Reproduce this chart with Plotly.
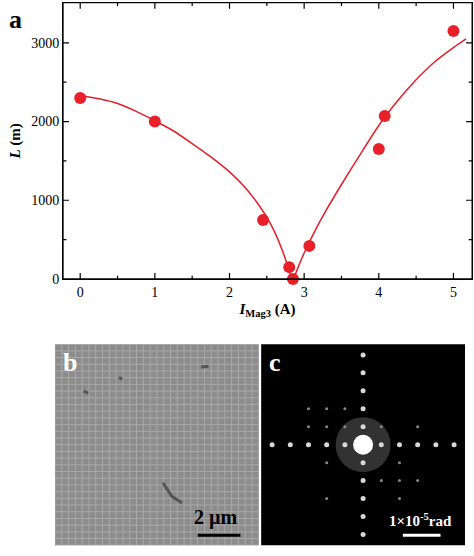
import plotly.graph_objects as go
import numpy as np

# data
current = [0.0, 1.0, 2.45, 2.8, 2.85, 3.07, 4.0, 4.08, 5.0]
length = [2300, 2000, 750, 150, 0, 420, 1650, 2070, 3150]
fit_x = [-0.02, 0.25, 0.5, 0.75, 1.0, 1.25, 1.5, 1.75, 2.0, 2.2, 2.4, 2.55, 2.65, 2.75, 2.8, 2.84, None,
         2.86, 2.92, 3.0, 3.15, 3.3, 3.5, 3.75, 4.0, 4.25, 4.5, 4.75, 5.0, 5.17]
fit_y = [2330, 2290, 2230, 2130, 2010, 1880, 1720, 1550, 1360, 1170, 930, 700, 500, 250, 100, 0, None,
         0, 150, 330, 620, 880, 1200, 1580, 1950, 2260, 2530, 2760, 2940, 3050]
x_ticks = [0, 0.5, 1, 1.5, 2, 2.5, 3, 3.5, 4, 4.5, 5]
y_ticks = [500, 1000, 1500, 2000, 2500, 3000]
spot_h = [-5, -4, -3, -2, -1, 1, 2, 3, 4, 5]
spot_v = [-5, -4, -3, -2, -1, 1, 2, 3, 4, 5]
spot_weak_x = [1, 2, 3, -2, 2, -3, -2, -1, 1, 3, -3, -2, -1, -2, 2]
spot_weak_y = [-2, -2, -2, -1, -1, 1, 1, 1, 1, 1, 2, 2, 2, -3, -3]

XR = [-0.23, 5.25]
YR = [0, 3510]
SERIF = "Liberation Serif"
fig = go.Figure()
fig.add_trace(go.Scatter(x=fit_x, y=fit_y, mode="lines", line=dict(color="#e0202a", width=1.5, shape="spline", smoothing=0.6),
                         xaxis="x", yaxis="y", showlegend=False))
fig.add_trace(go.Scatter(x=current, y=length, mode="markers", marker=dict(color="#e8202a", size=12),
                         xaxis="x", yaxis="y", showlegend=False, cliponaxis=False))

# inward tick marks on all four sides
tx, ty = [], []
for v in x_ticks:
    L = 75 if float(v).is_integer() else 40
    tx += [v, v, None, v, v, None]; ty += [YR[0], YR[0] + L, None, YR[1], YR[1] - L, None]
for v in y_ticks:
    L = 0.08 if v % 1000 == 0 else 0.045
    tx += [XR[0], XR[0] + L, None, XR[1], XR[1] - L, None]; ty += [v, v, None, v, v, None]
fig.add_trace(go.Scatter(x=tx, y=ty, mode="lines", line=dict(color="black", width=1.2),
                         xaxis="x", yaxis="y", showlegend=False, hoverinfo="skip"))

# panel b grid texture
gx, gy = [], []
for v in np.arange(0, 30.01, 1.0):
    gx += [v, v, None]; gy += [0, 30, None]
    gx += [0, 30, None]; gy += [v, v, None]
fig.add_trace(go.Scatter(x=gx, y=gy, mode="lines", line=dict(color="#a9a9a9", width=1),
                         xaxis="x2", yaxis="y2", showlegend=False, hoverinfo="skip"))
fig.add_trace(go.Scatter(x=[15.9, 17.2, 18.7, None, 21.5, 22.6, None, 9.4, 9.9, None, 4.2, 4.9],
                         y=[9.3, 7.3, 6.3, None, 26.6, 26.7, None, 25.0, 24.8, None, 23.0, 22.7],
                         mode="lines", line=dict(color="#555", width=3), xaxis="x2", yaxis="y2", showlegend=False))

# panel c spots
sx = spot_h + [0] * len(spot_v)
sy = [0] * len(spot_h) + spot_v
fig.add_trace(go.Scatter(x=[0], y=[0], mode="markers", marker=dict(color="rgba(200,200,200,0.25)", size=55),
                         xaxis="x3", yaxis="y3", showlegend=False))
fig.add_trace(go.Scatter(x=sx, y=sy, mode="markers", marker=dict(color="#d8d8d8", size=5),
                         xaxis="x3", yaxis="y3", showlegend=False))
fig.add_trace(go.Scatter(x=spot_weak_x, y=spot_weak_y, mode="markers", marker=dict(color="#888", size=3),
                         xaxis="x3", yaxis="y3", showlegend=False))
fig.add_trace(go.Scatter(x=[0], y=[0], mode="markers", marker=dict(color="white", size=20),
                         xaxis="x3", yaxis="y3", showlegend=False))

ax = dict(showline=True, linecolor="black", linewidth=1.2, mirror=True, ticks="",
          showgrid=False, zeroline=False,
          tickfont=dict(family=SERIF, size=14, color="black"))
fig.update_layout(
    width=474, height=556, margin=dict(l=0, r=0, t=0, b=0),
    paper_bgcolor="white", plot_bgcolor="white",
    xaxis=dict(ax, domain=[0.133, 0.996], range=XR, dtick=1, anchor="y",
               title=dict(text="<b><i>I</i><sub>Mag3</sub> (A)</b>", standoff=4,
                          font=dict(family=SERIF, size=15, color="black"))),
    yaxis=dict(ax, domain=[0.491, 0.995], range=YR, dtick=1000, anchor="x",
               title=dict(text="<b><i>L</i> (m)</b>", standoff=6,
                          font=dict(family=SERIF, size=15, color="black"))),
    xaxis2=dict(domain=[0.116, 0.546], range=[0, 30], visible=False, anchor="y2"),
    yaxis2=dict(domain=[0.005, 0.372], range=[0, 30], visible=False, anchor="x2"),
    xaxis3=dict(domain=[0.551, 0.981], range=[-5.6, 5.6], visible=False, anchor="y3"),
    yaxis3=dict(domain=[0.005, 0.372], range=[-5.6, 5.6], visible=False, anchor="x3"),
    shapes=[
        dict(type="rect", xref="x domain", yref="y domain", x0=0, x1=1, y0=0, y1=1,
             line=dict(color="black", width=1.2), layer="above"),
        dict(type="rect", xref="x2 domain", yref="y2 domain", x0=0, x1=1, y0=0, y1=1,
             fillcolor="#8c8c8c", line=dict(width=0), layer="below"),
        dict(type="rect", xref="x3 domain", yref="y3 domain", x0=0, x1=1, y0=0, y1=1,
             fillcolor="black", line=dict(width=0), layer="below"),
        dict(type="line", xref="x2 domain", yref="y2 domain", x0=0.7, x1=0.91, y0=0.05, y1=0.05,
             line=dict(color="black", width=3)),
        dict(type="line", xref="x3 domain", yref="y3 domain", x0=0.695, x1=0.88, y0=0.05, y1=0.05,
             line=dict(color="white", width=3)),
    ],
    annotations=[
        dict(text="<b>a</b>", xref="paper", yref="paper", x=0.015, y=0.995, xanchor="left", yanchor="top",
             showarrow=False, font=dict(family=SERIF, size=26, color="black")),
        dict(text="<b>b</b>", xref="x2 domain", yref="y2 domain", x=0.03, y=0.99, xanchor="left", yanchor="top",
             showarrow=False, font=dict(family=SERIF, size=26, color="white")),
        dict(text="<b>c</b>", xref="x3 domain", yref="y3 domain", x=0.03, y=0.99, xanchor="left", yanchor="top",
             showarrow=False, font=dict(family=SERIF, size=26, color="white")),
        dict(text="<b>2 µm</b>", xref="x2 domain", yref="y2 domain", x=0.79, y=0.07, xanchor="center", yanchor="bottom",
             showarrow=False, font=dict(family=SERIF, size=20, color="black")),
        dict(text="<b>1×10<sup>-5</sup>rad</b>", xref="x3 domain", yref="y3 domain", x=0.78, y=0.07,
             xanchor="center", yanchor="bottom", showarrow=False, font=dict(family=SERIF, size=15, color="white")),
    ],
)
fig.write_html("out.html", config={"displayModeBar": False},
               post_script="document.body.style.margin='0';")
